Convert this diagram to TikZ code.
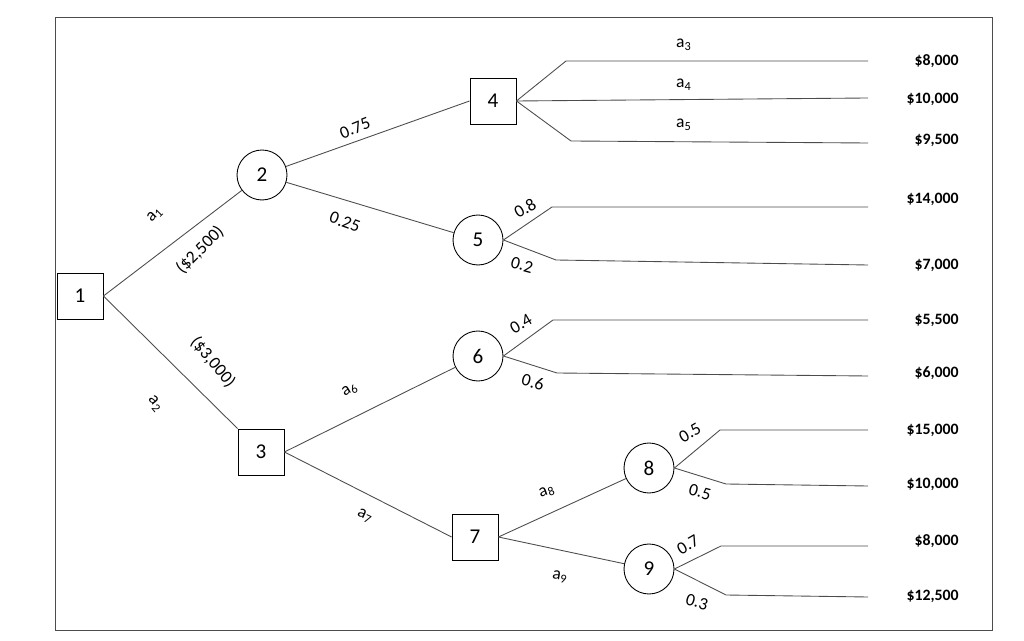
\documentclass[tikz,border=0pt]{standalone}
\usepackage{fontspec}
\setmainfont{Carlito}
\usetikzlibrary{positioning}
\tikzset{
	every picture/.style = {line width=0.5pt},
	dec/.style = {rectangle, draw = black, minimum size = 0.92cm, inner sep = 0pt, font = \large},
	chance/.style = {circle, draw = black, minimum size = 1cm, inner sep = 0pt, font = \large},
	branch/.style = {draw = black!70, line width = 0.5pt},
	val/.style = {anchor = east, font = \bfseries\small},
	lab/.style = {font = \normalsize, inner sep = 0pt}
}
\begin{document}
\begin{tikzpicture}[x=0.02cm, y=-0.02cm]
	\useasboundingbox (0,0) rectangle (1024,641);
	\draw[black!70] (55,17) rectangle (992,630);
	
	%%%%%%%% decision and chance nodes %%%%%%%%
	\node (n1) [dec] at (80,296) {1};
	\node (n2) [chance] at (262,175) {2};
	\node (n3) [dec] at (261,452) {3};
	\node (n4) [dec] at (493,101) {4};
	\node (n5) [chance] at (478,240) {5};
	\node (n6) [chance] at (478,356) {6};
	\node (n7) [dec] at (475,537) {7};
	\node (n8) [chance] at (649,468) {8};
	\node (n9) [chance] at (649,569) {9};
	
	%%% main branches %%%
	\draw [branch] (n1.east) -- (n2);
	\draw [branch] (n1.east) -- (n3.north west);
	\draw [branch] (n2) -- (n4.west);
	\draw [branch] (n2) -- (n5);
	\draw [branch] (n3.east) -- (n6);
	\draw [branch] (n3.east) -- (n7.west);
	\draw [branch] (n7.east) -- (n8);
	\draw [branch] (n7.east) -- (n9);
	
	% branch labels
	\node [lab, rotate=45] at (155,215) {a\textsubscript{1}};
	\node [lab, rotate=45] at (200,250) {(\$2,500)};
	\node [lab, rotate=-50] at (213,362) {(\$3,000)};
	\node [lab, rotate=-50] at (155,404) {a\textsubscript{2}};
	\node [lab, rotate=22] at (355,128) {0.75};
	\node [lab, rotate=-20] at (345,222) {0.25};
	\node [lab, rotate=30] at (350,390) {a\textsubscript{6}};
	\node [lab, rotate=-25] at (365,516) {a\textsubscript{7}};
	\node [lab, rotate=20] at (547,492) {a\textsubscript{8}};
	\node [lab, rotate=-10] at (560,577) {a\textsubscript{9}};
	
	%%% end branches %%%
	\coordinate (e1) at (868,61);
	\coordinate (e2) at (868,98);
	\coordinate (e3) at (868,143);
	\coordinate (e4) at (868,207);
	\coordinate (e5) at (868,265);
	\coordinate (e6) at (868,320);
	\coordinate (e7) at (868,376);
	\coordinate (e8) at (868,430);
	\coordinate (e9) at (868,486);
	\coordinate (e10) at (868,546);
	\coordinate (e11) at (868,597);
	\draw [branch] (n4.east) -- (566,61) -- (e1);
	\draw [branch] (n4.east) -- (e2);
	\draw [branch] (n4.east) -- (571,141) -- (e3);
	\draw [branch] (n5.east) -- (552,207) -- (e4);
	\draw [branch] (n5.east) -- (556,260) -- (e5);
	\draw [branch] (n6.east) -- (553,320) -- (e6);
	\draw [branch] (n6.east) -- (557,373) -- (e7);
	\draw [branch] (n8.east) -- (720,430) -- (e8);
	\draw [branch] (n8.east) -- (726,484) -- (e9);
	\draw [branch] (n9.east) -- (721,546) -- (e10);
	\draw [branch] (n9.east) -- (726,595) -- (e11);
	
	% probabilities and actions
	\node [lab] at (684,45) {a\textsubscript{3}};
	\node [lab] at (684,85) {a\textsubscript{4}};
	\node [lab] at (684,125) {a\textsubscript{5}};
	\node [lab, rotate=30] at (525,208) {0.8};
	\node [lab, rotate=-15] at (522,265) {0.2};
	\node [lab, rotate=30] at (521,324) {0.4};
	\node [lab, rotate=-15] at (533,382) {0.6};
	\node [lab, rotate=30] at (690,433) {0.5};
	\node [lab, rotate=-15] at (700,492) {0.5};
	\node [lab, rotate=30] at (688,545) {0.7};
	\node [lab, rotate=-15] at (697,602) {0.3};
	
	% payoffs
	\node [val] at (965,61) {\$8,000};
	\node [val] at (965,99) {\$10,000};
	\node [val] at (965,140) {\$9,500};
	\node [val] at (965,199) {\$14,000};
	\node [val] at (965,265) {\$7,000};
	\node [val] at (965,320) {\$5,500};
	\node [val] at (965,373) {\$6,000};
	\node [val] at (965,430) {\$15,000};
	\node [val] at (965,484) {\$10,000};
	\node [val] at (965,541) {\$8,000};
	\node [val] at (965,596) {\$12,500};
\end{tikzpicture}
\end{document}
